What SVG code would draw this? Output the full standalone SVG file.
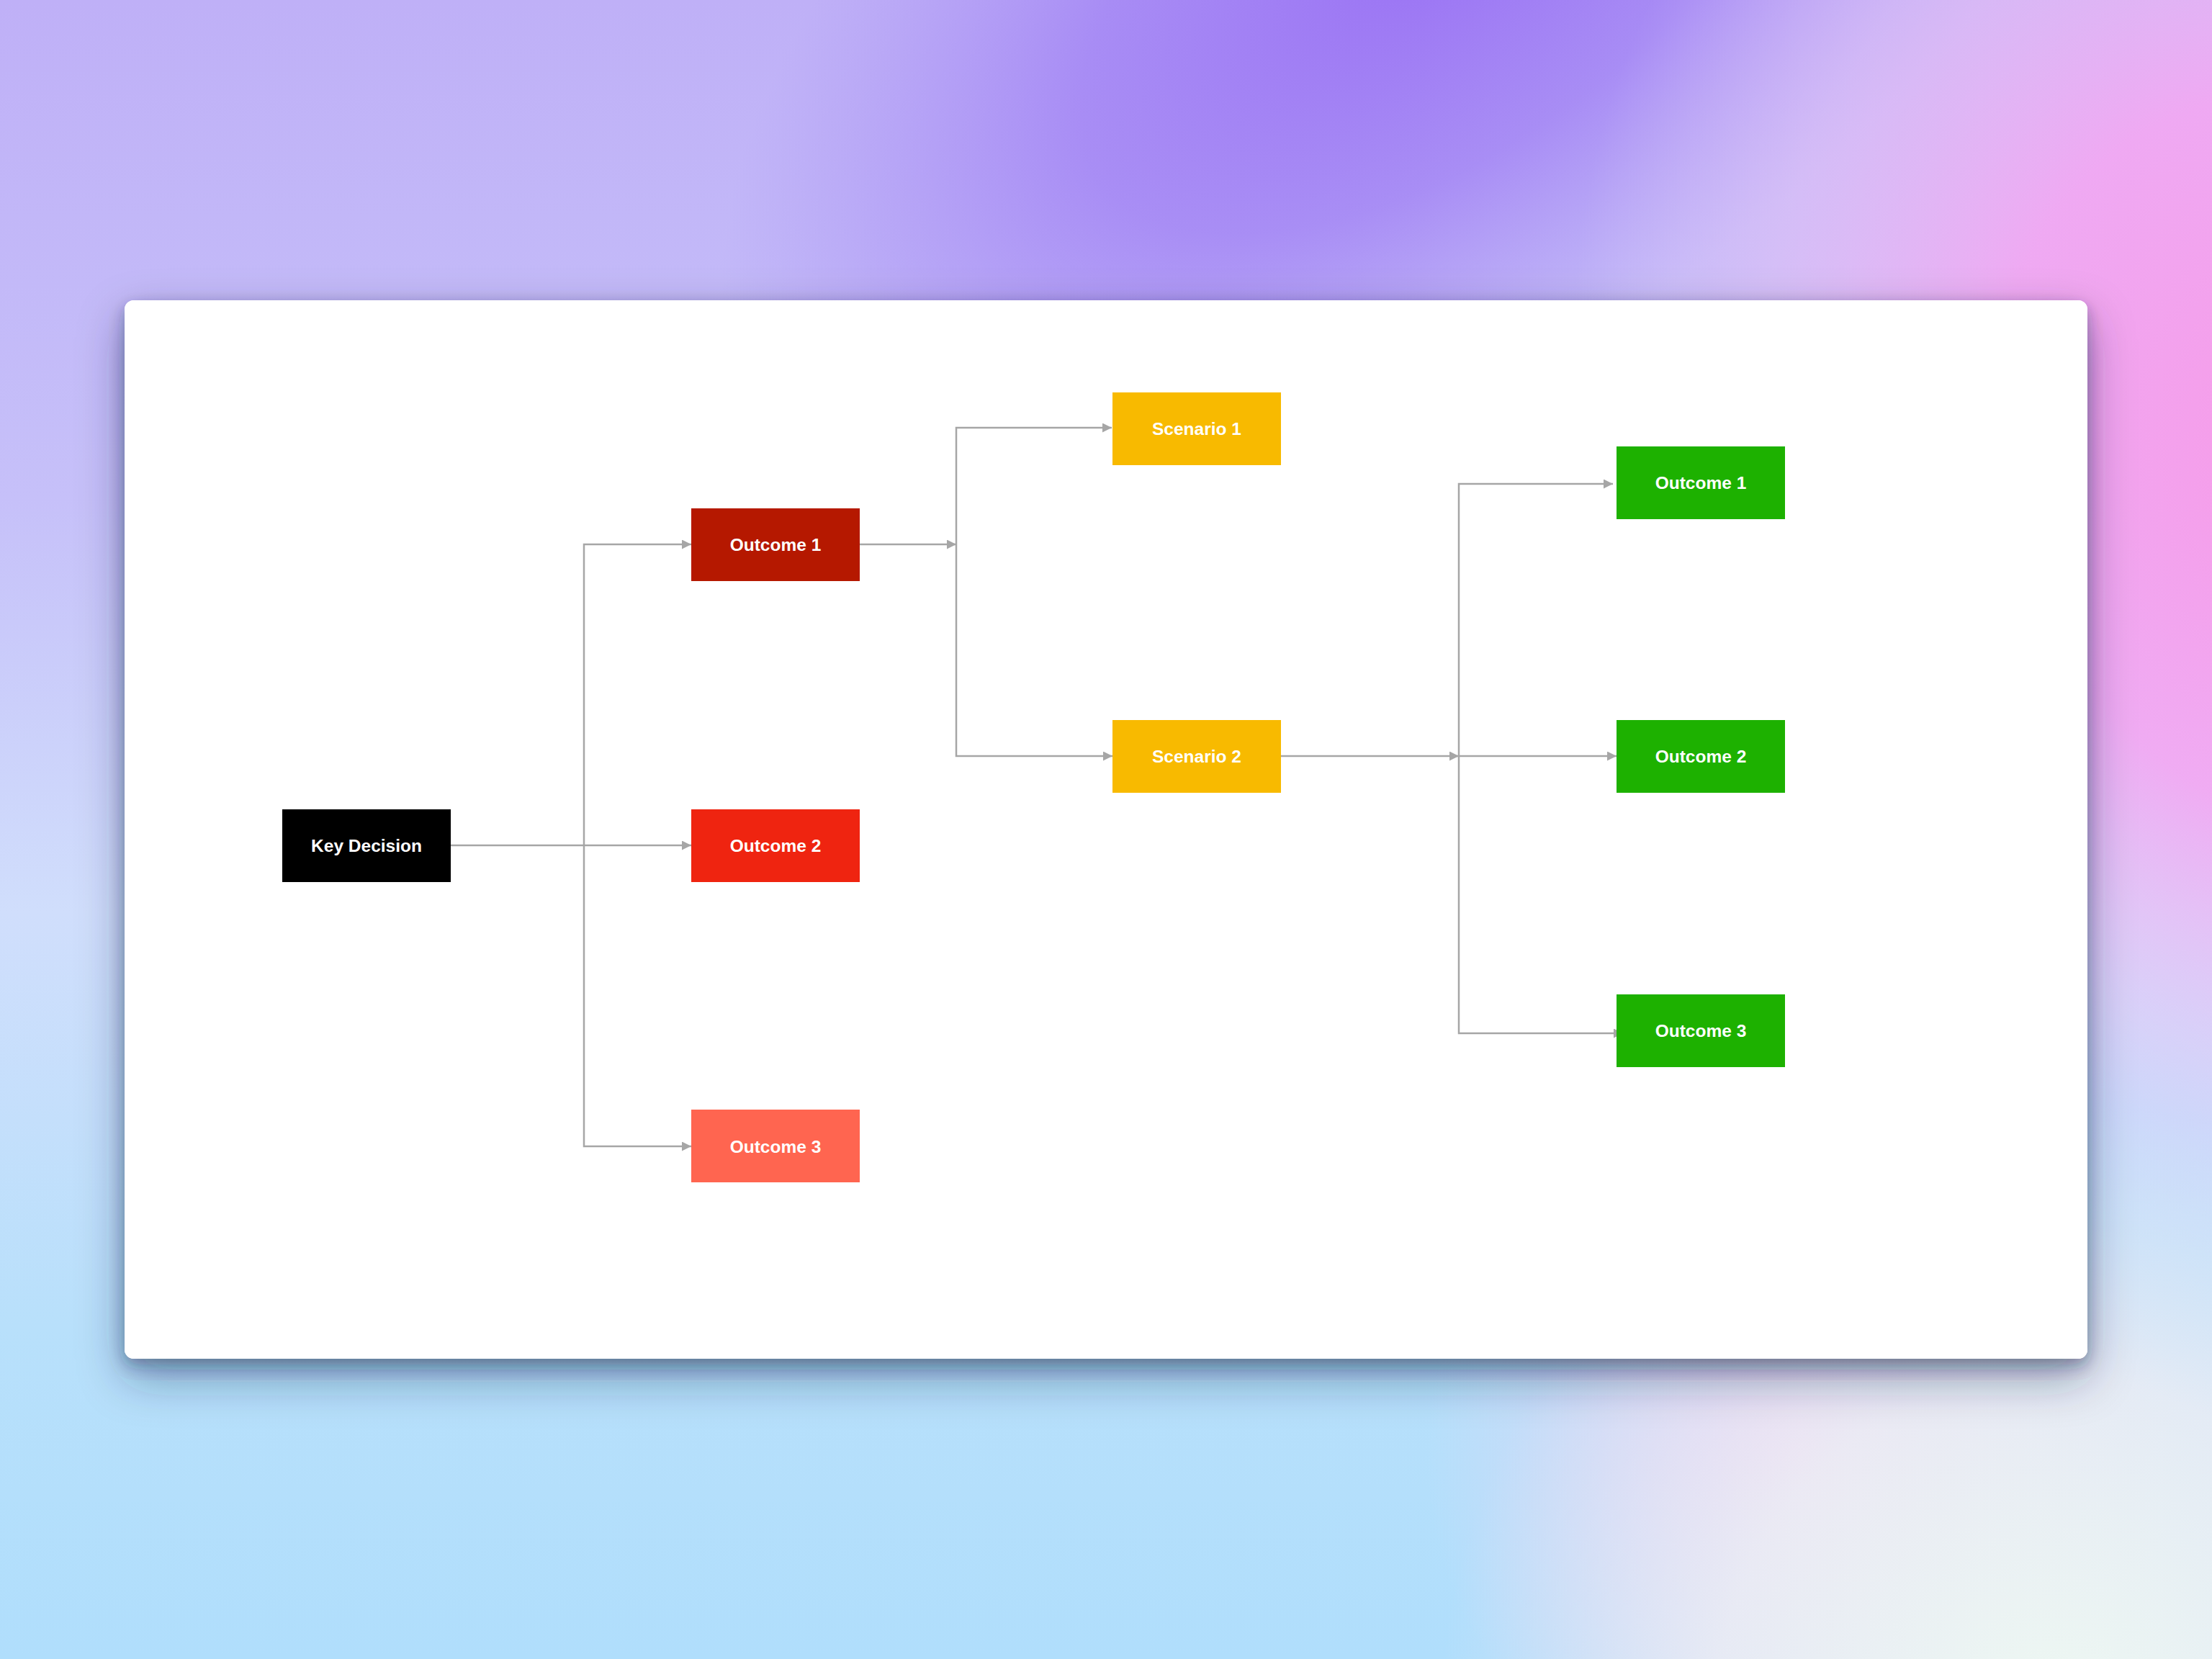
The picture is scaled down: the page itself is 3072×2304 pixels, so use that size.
<svg xmlns="http://www.w3.org/2000/svg" width="3072" height="2304" viewBox="0 0 3072 2304">
  <defs>
    <linearGradient id="bgBase" x1="0" y1="0" x2="0" y2="1">
      <stop offset="0" stop-color="#bfb0f7"/>
      <stop offset="0.3" stop-color="#c6c0f9"/>
      <stop offset="0.55" stop-color="#d0defc"/>
      <stop offset="0.8" stop-color="#b8e0fb"/>
      <stop offset="1" stop-color="#b0defc"/>
    </linearGradient>
    <radialGradient id="purple" gradientUnits="userSpaceOnUse" cx="2000" cy="-80" r="1150" gradientTransform="translate(2000,-80) rotate(-35) scale(1,0.5) translate(-2000,80)">
      <stop offset="0" stop-color="#9a72f4" stop-opacity="1"/>
      <stop offset="0.5" stop-color="#a080f4" stop-opacity="0.75"/>
      <stop offset="1" stop-color="#a890f4" stop-opacity="0"/>
    </radialGradient>
    <radialGradient id="pink" gradientUnits="userSpaceOnUse" cx="3250" cy="650" r="1200" gradientTransform="translate(3250,650) rotate(60) scale(1,0.85) translate(-3250,-650)">
      <stop offset="0" stop-color="#f898e6" stop-opacity="1"/>
      <stop offset="0.45" stop-color="#f3a8f2" stop-opacity="0.92"/>
      <stop offset="0.75" stop-color="#e6c4f6" stop-opacity="0.5"/>
      <stop offset="1" stop-color="#dcc8f8" stop-opacity="0"/>
    </radialGradient>
    <radialGradient id="whiteBR" gradientUnits="userSpaceOnUse" cx="2850" cy="2380" r="850">
      <stop offset="0" stop-color="#eef8f2" stop-opacity="1"/>
      <stop offset="0.55" stop-color="#ecedf4" stop-opacity="0.85"/>
      <stop offset="1" stop-color="#e8e4f4" stop-opacity="0"/>
    </radialGradient>
    <radialGradient id="lavBR" gradientUnits="userSpaceOnUse" cx="2500" cy="2020" r="520">
      <stop offset="0" stop-color="#ecd4f2" stop-opacity="1"/>
      <stop offset="1" stop-color="#ecd6f2" stop-opacity="0"/>
    </radialGradient>
    <filter id="cardShadow" x="-10%" y="-10%" width="120%" height="125%">
      <feDropShadow dx="0" dy="8" stdDeviation="10" flood-color="#1c2a4a" flood-opacity="0.35" result="s1"/>
      <feGaussianBlur in="SourceAlpha" stdDeviation="32" result="b2"/>
      <feOffset in="b2" dy="26" result="o2"/>
      <feFlood flood-color="#1c2a4a" flood-opacity="0.4"/>
      <feComposite in2="o2" operator="in" result="s2"/>
      <feMerge>
        <feMergeNode in="s2"/>
        <feMergeNode in="s1"/>
      </feMerge>
    </filter>
    <marker id="arrow" viewBox="0 0 10 10" refX="10" refY="5" markerWidth="14" markerHeight="13" markerUnits="userSpaceOnUse" orient="auto">
      <path d="M0,0 L10,5 L0,10 z" fill="#a6a6a6"/>
    </marker>
    <style>
      .conn { fill: none; stroke: #a6a6a6; stroke-width: 2.5; }
      .arr { marker-end: url(#arrow); }
      .lbl { font-family: "Liberation Sans", Arial, Helvetica, sans-serif; font-weight: bold; font-size: 24.5px; fill: #ffffff; text-anchor: middle; }
    </style>
  </defs>

  <!-- background -->
  <rect x="0" y="0" width="3072" height="2304" fill="url(#bgBase)"/>
  <rect x="0" y="0" width="3072" height="2304" fill="url(#purple)"/>
  <rect x="0" y="0" width="3072" height="2304" fill="url(#pink)"/>
  <rect x="0" y="0" width="3072" height="2304" fill="url(#lavBR)"/>
  <rect x="0" y="0" width="3072" height="2304" fill="url(#whiteBR)"/>

  <!-- card -->
  <rect id="card" x="173" y="417" width="2726" height="1470" rx="13" ry="13" fill="#ffffff" filter="url(#cardShadow)"/>
  <rect x="173" y="417" width="2726" height="1470" rx="13" ry="13" fill="#ffffff"/>

  <!-- connectors -->
  <g id="connectors">
    <path class="conn arr" d="M625,1174 H960"/>
    <path class="conn arr" d="M811,1174 V756 H960"/>
    <path class="conn arr" d="M811,1174 V1592 H960"/>
    <path class="conn arr" d="M1194,756 H1328"/>
    <path class="conn arr" d="M1328,756 V594 H1544"/>
    <path class="conn arr" d="M1328,756 V1050 H1545"/>
    <path class="conn arr" d="M1779,1050 H2026"/>
    <path class="conn arr" d="M2026,1050 V672 H2240"/>
    <path class="conn arr" d="M2026,1050 H2245"/>
    <path class="conn arr" d="M2026,1050 V1435 H2254"/>
  </g>

  <!-- nodes -->
  <g id="key-decision">
    <rect x="392" y="1124" width="234" height="101" fill="#000000"/>
    <text class="lbl" x="509" y="1183">Key Decision</text>
  </g>
  <g id="outcome-1-red">
    <rect x="960" y="706" width="234" height="101" fill="#b51800"/>
    <text class="lbl" x="1077" y="765">Outcome 1</text>
  </g>
  <g id="outcome-2-red">
    <rect x="960" y="1124" width="234" height="101" fill="#ef2410"/>
    <text class="lbl" x="1077" y="1183">Outcome 2</text>
  </g>
  <g id="outcome-3-red">
    <rect x="960" y="1541" width="234" height="101" fill="#ff6550"/>
    <text class="lbl" x="1077" y="1601">Outcome 3</text>
  </g>
  <g id="scenario-1">
    <rect x="1545" y="545" width="234" height="101" fill="#f8ba00"/>
    <text class="lbl" x="1662" y="604">Scenario 1</text>
  </g>
  <g id="scenario-2">
    <rect x="1545" y="1000" width="234" height="101" fill="#f8ba00"/>
    <text class="lbl" x="1662" y="1059">Scenario 2</text>
  </g>
  <g id="outcome-1-green">
    <rect x="2245" y="620" width="234" height="101" fill="#1db100"/>
    <text class="lbl" x="2362" y="679">Outcome 1</text>
  </g>
  <g id="outcome-2-green">
    <rect x="2245" y="1000" width="234" height="101" fill="#1db100"/>
    <text class="lbl" x="2362" y="1059">Outcome 2</text>
  </g>
  <g id="outcome-3-green">
    <rect x="2245" y="1381" width="234" height="101" fill="#1db100"/>
    <text class="lbl" x="2362" y="1440">Outcome 3</text>
  </g>
</svg>
